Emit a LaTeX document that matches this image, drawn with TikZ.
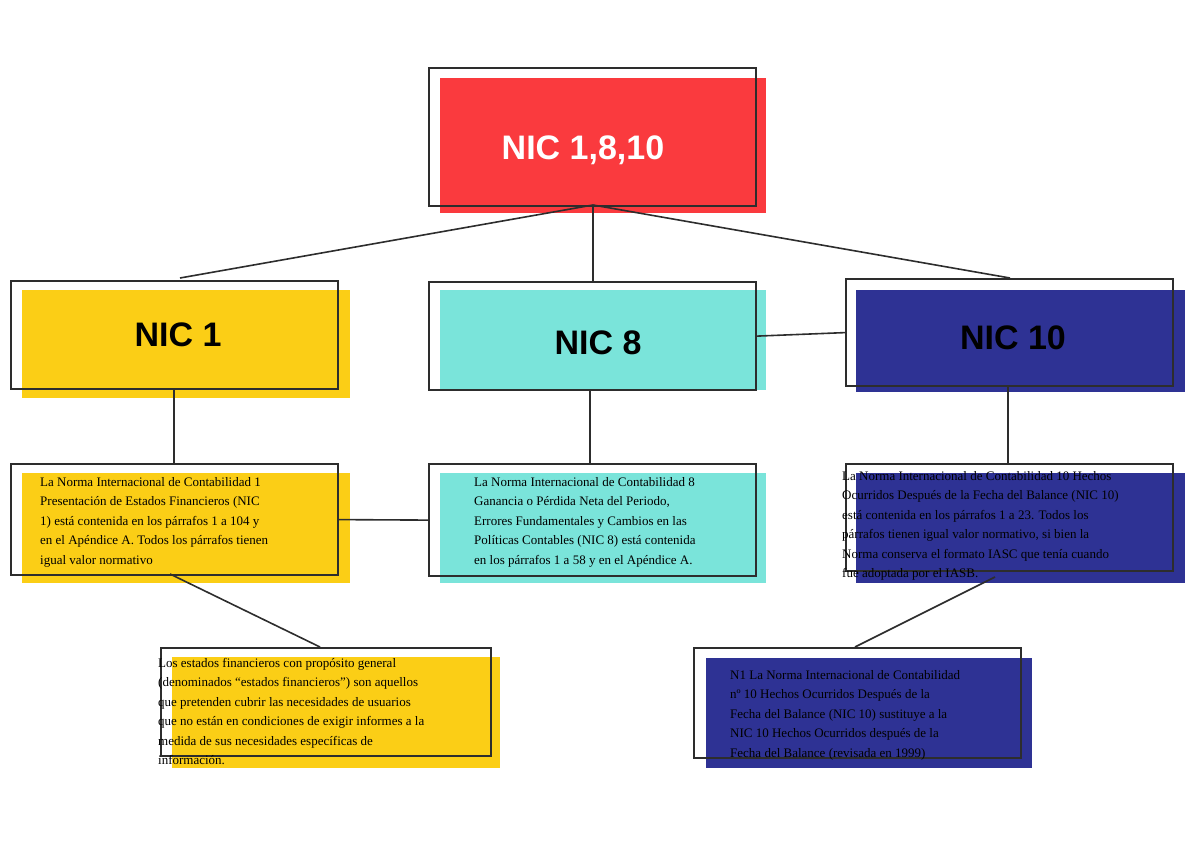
\documentclass[tikz,border=0pt]{standalone}
\usepackage{fontspec}
\setmainfont{Liberation Serif}
\newfontfamily\titlefont{Liberation Sans}
\definecolor{cred}{RGB}{250,58,62}
\definecolor{cyel}{RGB}{251,206,22}
\definecolor{cteal}{RGB}{122,228,218}
\definecolor{cnavy}{RGB}{46,50,148}
\definecolor{cline}{RGB}{45,45,45}
\begin{document}
\begin{tikzpicture}[x=1pt,y=-1pt,
  outl/.style={draw=cline,line width=2.2pt},
  ln/.style={draw=cline,line width=1.6pt},
  ttl/.style={font=\titlefont\bfseries\fontsize{34}{34}\selectfont},
  body/.style={font=\fontsize{13}{19.5}\selectfont,anchor=north west,align=left,inner sep=0pt}]
\useasboundingbox (0,0) rectangle (1200,849);
% fills
\fill[cred] (440,78) rectangle (766,213);
\fill[cyel] (22,290) rectangle (350,398);
\fill[cteal] (440,290) rectangle (766,390);
\fill[cnavy] (856,290) rectangle (1185,392);
\fill[cyel] (22,473) rectangle (350,583);
\fill[cteal] (440,473) rectangle (766,583);
\fill[cnavy] (856,473) rectangle (1185,583);
\fill[cyel] (172,657) rectangle (500,768);
\fill[cnavy] (706,658) rectangle (1032,768);
% outline boxes
\node[outl,minimum width=327,minimum height=138,anchor=north west] (top) at (428,67) {};
\node[outl,minimum width=327,minimum height=108,anchor=north west] (n1) at (10,280) {};
\node[outl,minimum width=327,minimum height=108,anchor=north west] (n8) at (428,281) {};
\node[outl,minimum width=327,minimum height=107,anchor=north west] (n10) at (845,278) {};
\node[outl,minimum width=327,minimum height=111,anchor=north west] (b1) at (10,463) {};
\node[outl,minimum width=327,minimum height=112,anchor=north west] (b8) at (428,463) {};
\node[outl,minimum width=327,minimum height=107,anchor=north west] (b10) at (845,463) {};
\node[outl,minimum width=330,minimum height=108,anchor=north west] (c1) at (160,647) {};
\node[outl,minimum width=327,minimum height=110,anchor=north west] (c10) at (693,647) {};
% titles
\node[ttl,text=white] (t0) at (583,150) {NIC 1,8,10};
\node[ttl,text=black] (t1) at (178,335) {NIC 1};
\node[ttl,text=black] (t8) at (598,343) {NIC 8};
\node[ttl,text=black] (t10) at (1013,338) {NIC 10};
% texts
\node[body] (x1) at (40,477) {La Norma Internacional de Contabilidad 1\\Presentación de Estados Financieros (NIC\\1) está contenida en los párrafos 1 a 104 y\\en el Apéndice A. Todos los párrafos tienen\\igual valor normativo};
\node[body] (x8) at (474,477) {La Norma Internacional de Contabilidad 8\\Ganancia o Pérdida Neta del Periodo,\\Errores Fundamentales y Cambios en las\\Políticas Contables (NIC 8) está contenida\\en los párrafos 1 a 58 y en el Apéndice A.};
\node[body] (x10) at (842,471) {La Norma Internacional de Contabilidad 10 Hechos\\Ocurridos Después de la Fecha del Balance (NIC 10)\\está contenida en los párrafos 1 a 23. Todos los\\párrafos tienen igual valor normativo, si bien la\\Norma conserva el formato IASC que tenía cuando\\fue adoptada por el IASB.};
\node[body] (y1) at (158,658) {Los estados financieros con propósito general\\(denominados “estados financieros”) son aquellos\\que pretenden cubrir las necesidades de usuarios\\que no están en condiciones de exigir informes a la\\medida de sus necesidades específicas de\\información.};
\node[body] (y10) at (730,670) {N1 La Norma Internacional de Contabilidad\\nº 10 Hechos Ocurridos Después de la\\Fecha del Balance (NIC 10) sustituye a la\\NIC 10 Hechos Ocurridos después de la\\Fecha del Balance (revisada en 1999)};
% connectors
\coordinate (tb) at (593,205);
\draw[ln] (tb) -- (180,278);
\draw[ln] (tb) -- (593,281);
\draw[ln] (tb) -- (1010,278);
\draw[ln] (174,388) -- (174,463);
\draw[ln] (590,389) -- (590,463);
\draw[ln] (1008,385) -- (1008,463);
\draw[ln] (n8.east) -- (n10.west);
\draw[ln] (b1.east) -- (b8.west);
\draw[ln] (170,574) -- (320,647);
\draw[ln] (995,577) -- (855,647);
\end{tikzpicture}
\end{document}
